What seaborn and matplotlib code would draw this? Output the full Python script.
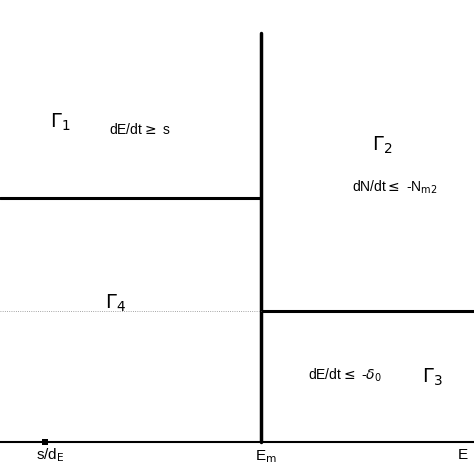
import matplotlib
matplotlib.use("Agg")
import matplotlib.pyplot as plt
import seaborn as sns

sns.set_theme(style="white")
plt.rcParams['font.family'] = ['Liberation Sans', 'DejaVu Sans']

# diagram in pixel-like units (y grows downward)
solid_x = [[0, 261], [261, 261], [261, 474], [0, 474]]
solid_y = [[198, 198], [33, 442], [311, 311], [442, 442]]
solid_w = [2.2, 2.5, 2.2, 1.5]
dotted_x = [0, 261]
dotted_y = [311, 311]
marker_x = [45]
marker_y = [442]

region_labels = [r"$\Gamma_1$", r"$\Gamma_2$", r"$\Gamma_3$", r"$\Gamma_4$"]
region_x = [60, 382, 432, 115]
region_y = [122, 145, 377, 303]
cond_labels = [r"dE/dt$\geq$ s", r"dN/dt$\leq$ -N$_{\mathrm{m2}}$", r"dE/dt$\leq$ -$\delta_0$"]
cond_x = [140, 395, 345]
cond_y = [130, 187, 375]
tick_labels = [r"s/d$_{\mathrm{E}}$", r"E$_{\mathrm{m}}$", "E"]
tick_x = [50, 266, 463]
tick_y = [455, 457, 455]

fig = plt.figure(figsize=(4.74, 4.74), dpi=100)
ax = fig.add_axes([0, 0, 1, 1])
for xs, ys, w in zip(solid_x, solid_y, solid_w):
    sns.lineplot(x=xs, y=ys, ax=ax, color="black", lw=w, estimator=None, sort=False)
sns.lineplot(x=dotted_x, y=dotted_y, ax=ax, color="#888888", lw=0.6, ls=":", estimator=None)
sns.scatterplot(x=marker_x, y=marker_y, ax=ax, color="black", marker="s", s=18, linewidth=0)

for t, x, y in zip(region_labels, region_x, region_y):
    ax.text(x, y, t, fontsize=14, ha="center", va="center", color="black")
for t, x, y in zip(cond_labels, cond_x, cond_y):
    ax.text(x, y, t, fontsize=10, ha="center", va="center", color="black")
for t, x, y in zip(tick_labels, tick_x, tick_y):
    ax.text(x, y, t, fontsize=11, ha="center", va="center", color="black")

ax.set_xlim(0, 474)
ax.set_ylim(474, 0)
ax.axis("off")
fig.savefig("out.png", dpi=100, facecolor="white")
